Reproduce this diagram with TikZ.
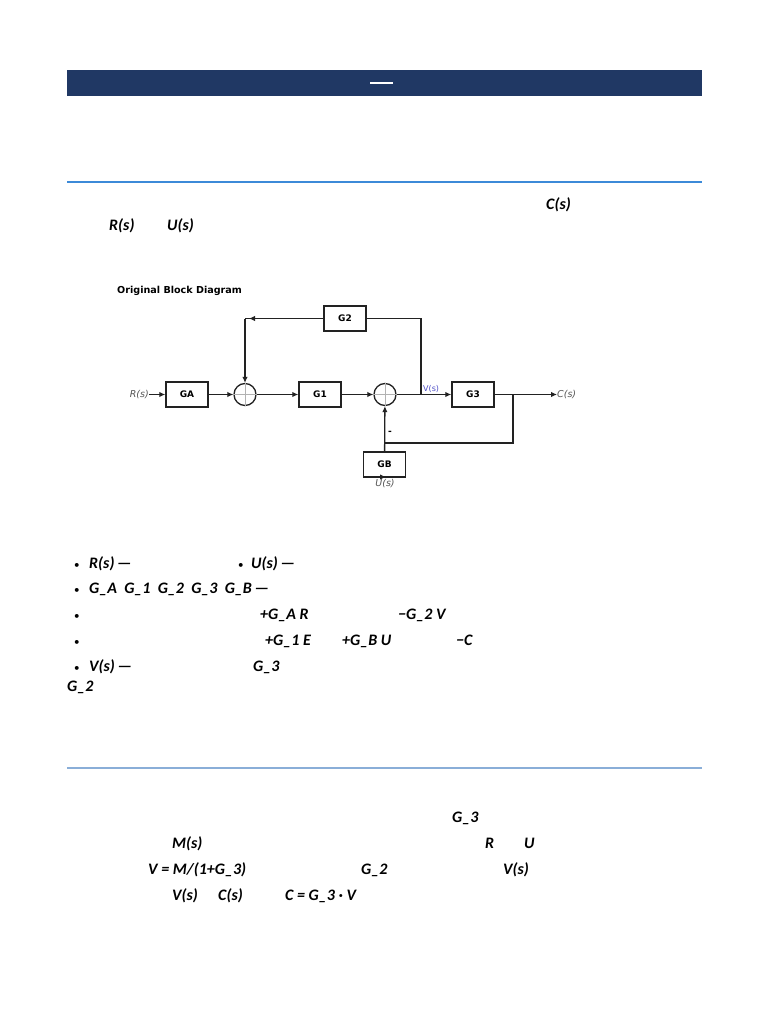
\documentclass[tikz,border=0pt]{standalone}
\usepackage{fontspec}
\setmainfont{Carlito}
\newfontfamily\dv{DejaVu Sans}
\usetikzlibrary{arrows.meta}
\definecolor{navy}{HTML}{203864}
\definecolor{rule1}{HTML}{3C8AD8}
\definecolor{rule2}{HTML}{8AAED8}
\definecolor{vlab}{HTML}{5050C8}
\definecolor{lab}{HTML}{555555}
\definecolor{ln}{HTML}{222222}
\begin{document}
\begin{tikzpicture}[x=1pt,y=-1pt,
  txt/.style={anchor=base west,inner sep=0,font=\fontsize{16}{18}\selectfont\bfseries\itshape},
  bul/.style={anchor=base west,inner sep=0,font=\fontsize{11}{12}\selectfont},
  blk/.style={draw=ln,line width=1.4pt,minimum width=42pt,minimum height=25pt,inner sep=0,font=\dv\fontsize{9}{10}\selectfont\bfseries},
  sumj/.style={draw=ln,line width=1.3pt,circle,minimum size=22pt,inner sep=0},
  wire/.style={draw=ln,line width=1.3pt},
  arr/.style={wire,-{Latex[length=6pt,width=5.5pt]}},
  slab/.style={inner sep=0,font=\dv\fontsize{9.5}{11}\selectfont\itshape,text=lab}]
\useasboundingbox (0,0) rectangle (768,1024);
\fill[white] (0,0) rectangle (768,1024);
% header
\fill[navy] (67,70) rectangle (702,96);
\draw[white,line width=2.2pt] (370,83) -- (393,83);
\draw[rule1,line width=1.3pt] (67,182) -- (702,182);
\draw[rule2,line width=1.5pt] (67,768) -- (702,768);
% intro text
\node[txt] (t1) at (546,210) {C(s)};
\node[txt] (t2) at (109,230) {R(s)};
\node[txt] (t3) at (167,230) {U(s)};
% diagram title
\node[anchor=west,inner sep=0,font=\dv\fontsize{9.6}{11}\selectfont\bfseries] (title) at (117,291) {Original Block Diagram};
% blocks
\node[blk] (GA) at (187,394.5) {GA};
\node[sumj] (S1) at (245,394.5) {};
\node[blk] (G1) at (320,394.5) {G1};
\node[sumj] (S2) at (385,394.5) {};
\node[blk] (G3) at (473,394.5) {G3};
\node[blk] (G2) at (345,318.5) {G2};
\node[blk] (GB) at (384.5,464.5) {GB};
\foreach \s in {S1,S2}{
  \draw[gray!60,line width=0.7pt] (\s.north) -- (\s.south) (\s.west) -- (\s.east);
}
% labels
\node[slab,anchor=east] (R) at (149,394.5) {R(s)};
\node[slab,anchor=west] (C) at (557,394.5) {C(s)};
\node[slab,anchor=north] (U) at (385,479) {U(s)};
\node[inner sep=0,anchor=base west,font=\dv\fontsize{8}{9}\selectfont,text=vlab] (V) at (423,391.5) {V(s)};
\node[inner sep=0,font=\dv\fontsize{9}{10}\selectfont\bfseries] (minus) at (390,433) {-};
\coordinate (vb) at (421,394.5);
\coordinate (vt) at (421,318.5);
\coordinate (ct) at (513,394.5);
\coordinate (cb) at (513,443);
\coordinate (sb) at (385,443);
\coordinate (ft) at (245,318.5);
\coordinate (fa) at (249,318.5);
\coordinate (ua) at (377,477);
\coordinate (ub) at (386,477);
% connectors
\draw[arr] (R) -- (GA);
\draw[arr] (GA) -- (S1);
\draw[arr] (S1) -- (G1);
\draw[arr] (G1) -- (S2);
\draw[arr] (S2) -- (G3);
\draw[arr] (G3) -- (C);
\draw[wire] (vb) -- (vt) -- (G2.east);
\draw[wire] (G2.west) -- (ft);
\draw[arr] (G2.west) -- (fa);
\draw[arr] (ft) -- (S1);
\draw[wire] (ct) -- (cb) -- (sb);
\draw[arr] (GB) -- (S2);
\draw[arr] (ua) -- (ub);
% bullets
\node[bul] (d1) at (74,568) {•};
\node[bul] (d2) at (238,568) {•};
\node[bul] (d3) at (74,593) {•};
\node[bul] (d4) at (74,619) {•};
\node[bul] (d5) at (74,645) {•};
\node[bul] (d6) at (74,671) {•};
\begin{scope}[every node/.append style={txt}]
\node (b1a) at (89,568) {R(s)\,—};
\node (b1b) at (251,568) {U(s)\,—};
\node (b2) at (89,593) {G\_A\ \ G\_1\ \ G\_2\ \ G\_3\ \ G\_B\,—};
\node (b3a) at (260,619) {+G\_A R};
\node (b3b) at (398,619) {−G\_2 V};
\node (b4a) at (265,645) {+G\_1 E};
\node (b4b) at (342,645) {+G\_B U};
\node (b4c) at (456,645) {−C};
\node (b5) at (89,671) {V(s)\,—};
\node (b5a) at (253,671) {G\_3};
\node (b6) at (67,691) {G\_2};
% bottom
\node (c1) at (452,822) {G\_3};
\node (c2) at (172,848) {M(s)};
\node (c3) at (485,848) {R};
\node (c4) at (524,848) {U};
\node (c5) at (148,874) {V = M/(1+G\_3)};
\node (c6) at (361,874) {G\_2};
\node (c7) at (503,874) {V(s)};
\node (c8) at (172,900) {V(s)};
\node (c9) at (218,900) {C(s)};
\node (c10) at (285,900) {C = G\_3 · V};
\end{scope}
\end{tikzpicture}
\end{document}
